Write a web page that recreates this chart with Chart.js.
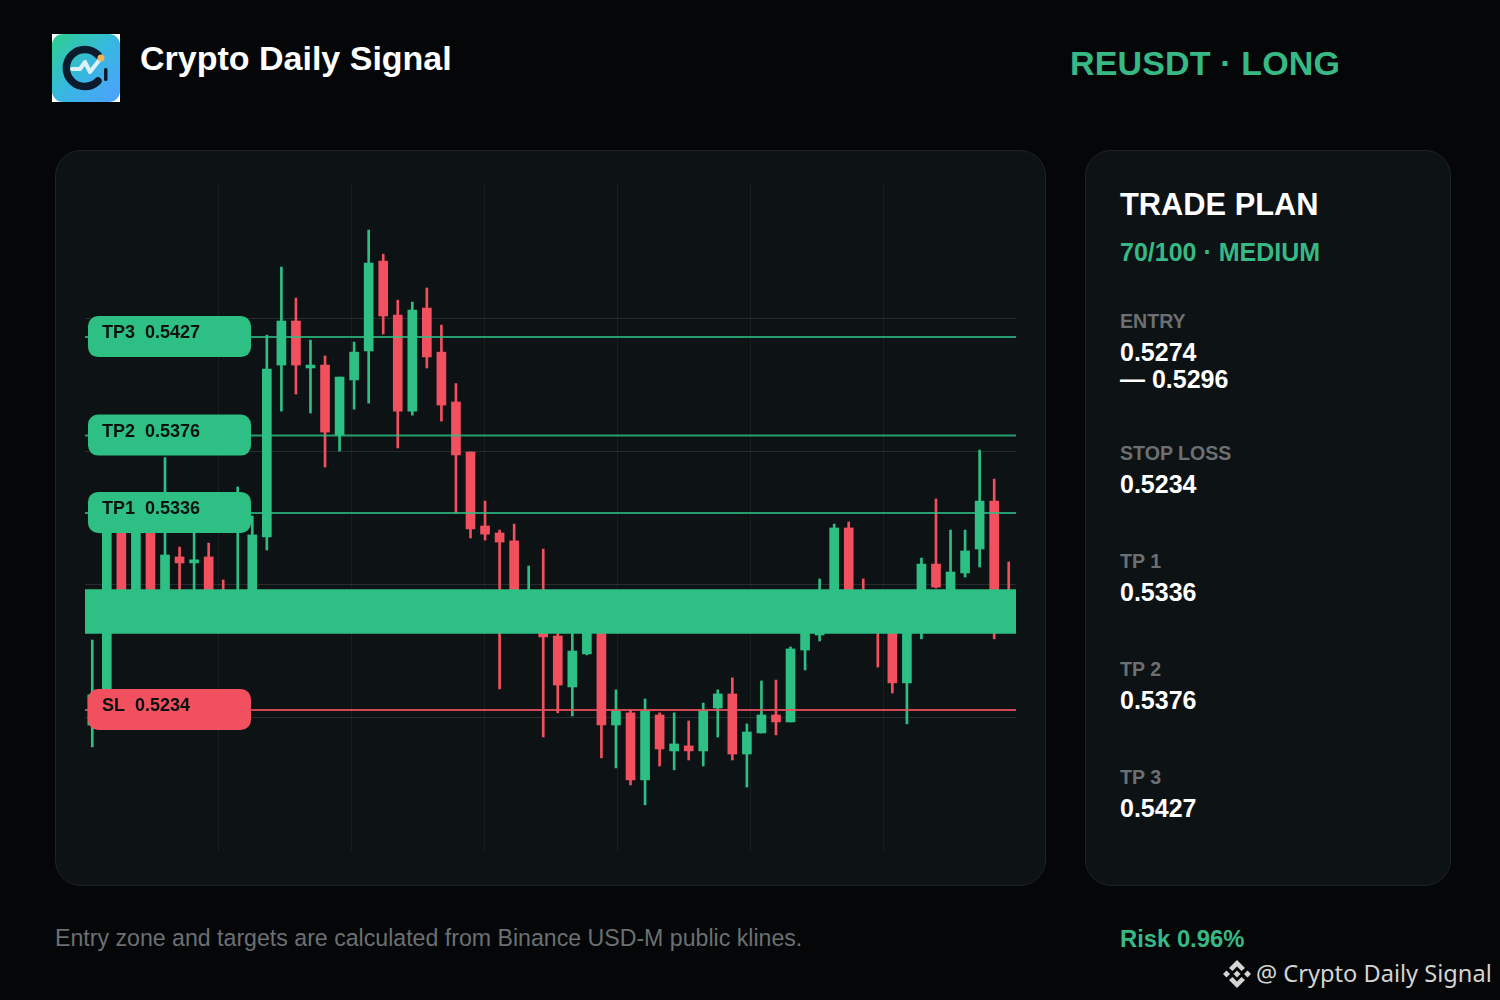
<!DOCTYPE html>
<html>
<head>
<meta charset="utf-8">
<title>Crypto Daily Signal</title>
<script src="https://cdn.jsdelivr.net/npm/chart.js@4"></script>
<style>
  html, body { margin: 0; padding: 0; background: #040608; }
  body { position: relative; width: 1500px; height: 1000px; overflow: hidden; font-family: "Liberation Sans", Arial, sans-serif; }
  .t { position: absolute; white-space: nowrap; line-height: 1; }
  .panel { position: absolute; box-sizing: border-box; top: 150px; height: 736px; background: #0d1214; border: 1px solid #1c2427; border-radius: 26px; }
  .lab { left: 1120px; font-size: 19.6px; font-weight: bold; color: #6b7072; }
  .val { left: 1120px; font-size: 25px; font-weight: bold; color: #fff; }
  #chartBox { position: absolute; left: 85px; top: 185px; width: 931px; height: 666px; }
</style>
</head>
<body>
<svg style="position:absolute;left:52px;top:34px" width="68" height="68" viewBox="0 0 68 68">
  <defs>
    <linearGradient id="lg" x1="0" y1="0" x2="1" y2="1">
      <stop offset="0" stop-color="#2cd08c"/>
      <stop offset="0.5" stop-color="#36b8e0"/>
      <stop offset="1" stop-color="#4f9fff"/>
    </linearGradient>
  </defs>
  <rect width="68" height="68" fill="#fff"/>
  <rect width="68" height="68" rx="11" fill="url(#lg)"/>
  <path d="M46 21 A18.500 18.500 0 1 0 46 47" fill="none" stroke="#0b1a2c" stroke-width="7.500" stroke-linecap="round"/>
  <path d="M20 35 L28 35 L33 28 L38 38 L49 24" fill="none" stroke="#dff0f8" stroke-width="4" stroke-linejoin="round" stroke-linecap="round"/>
  <circle cx="49" cy="24" r="3.500" fill="#f3b35b"/>
  <rect x="52" y="34" width="3.500" height="13" rx="1.500" fill="#0b1a2c"/>
</svg>
<div class="t" style="left:140px;top:41px;font-size:34px;font-weight:bold;color:#fff">Crypto Daily Signal</div>
<div class="t" style="left:1070px;top:46px;font-size:34px;font-weight:bold;letter-spacing:0.15px;color:#36b985">REUSDT · LONG</div>

<div class="panel" style="left:55px;width:991px"></div>
<div class="panel" style="left:1085px;width:366px"></div>

<div id="chartBox"><canvas id="candleChart" width="931" height="666"></canvas></div>

<div class="t" style="left:1120px;top:190px;font-size:30.800px;font-weight:bold;color:#fff">TRADE PLAN</div>
<div class="t" style="left:1120px;top:240px;font-size:25px;font-weight:bold;color:#36b985">70/100 · MEDIUM</div>
<div class="t lab" style="top:312px">ENTRY</div>
<div class="t val" style="top:340px">0.5274</div>
<div class="t val" style="top:367px">— 0.5296</div>
<div class="t lab" style="top:444px">STOP LOSS</div>
<div class="t val" style="top:472px">0.5234</div>
<div class="t lab" style="top:552px">TP 1</div>
<div class="t val" style="top:580px">0.5336</div>
<div class="t lab" style="top:660px">TP 2</div>
<div class="t val" style="top:688px">0.5376</div>
<div class="t lab" style="top:768px">TP 3</div>
<div class="t val" style="top:796px">0.5427</div>

<div class="t" style="left:55px;top:927px;font-size:23.150px;color:#6b7072">Entry zone and targets are calculated from Binance USD-M public klines.</div>
<div class="t" style="left:1120px;top:927px;font-size:23.800px;font-weight:bold;color:#36b985">Risk 0.96%</div>

<svg style="position:absolute;left:1222px;top:960px" width="30" height="28" viewBox="0 0 30 28" fill="#d4d4d4">
  <path d="M15 0 L23 8 L19.500 11 L15 6.500 L10.500 11 L7 8 Z"/>
  <path d="M15 28 L23 20 L19.500 17 L15 21.500 L10.500 17 L7 20 Z"/>
  <path d="M4.500 10.500 L8 14 L4.500 17.500 L1 14 Z"/>
  <path d="M25.500 10.500 L29 14 L25.500 17.500 L22 14 Z"/>
  <path d="M15 10.500 L18.500 14 L15 17.500 L11.500 14 Z"/>
</svg>
<div class="t" style="left:1256px;top:962px;font-size:23.600px;color:#d4d4d4;font-family:'Noto Sans','Open Sans',sans-serif">@ Crypto Daily Signal</div>

<script>
// цены
const opens = [0.52262,0.52392,0.53323,0.52909,0.53323,0.52909,0.53132,0.53101,0.53132,0.52935,0.52832,0.52857,0.53235,0.54125,0.54353,0.54110,
  0.54125,0.53763,0.54048,0.54198,0.54663,0.54384,0.53887,0.54420,0.54192,0.53934,0.53675,0.53292,0.53256,0.53215,0.52832,0.52857,
  0.52723,0.52459,0.52630,0.52780,0.52262,0.52325,0.51978,0.52314,0.52128,0.52154,0.52128,0.52350,0.52423,0.52112,0.52221,0.52314,
  0.52278,0.52650,0.52728,0.52857,0.53282,0.52935,0.52883,0.52857,0.52480,0.52857,0.53095,0.52857,0.53049,0.53173,0.53421,0.52935];
const highs = [0.52702,0.53401,0.53375,0.53375,0.53375,0.53646,0.53183,0.53297,0.53204,0.53013,0.53494,0.53344,0.54280,0.54632,0.54472,0.54254,
  0.54172,0.54063,0.54244,0.54824,0.54699,0.54461,0.54451,0.54524,0.54332,0.54029,0.53675,0.53421,0.53271,0.53302,0.53085,0.53173,
  0.52806,0.52780,0.52857,0.52857,0.52444,0.52340,0.52397,0.52325,0.52325,0.52283,0.52376,0.52444,0.52506,0.52268,0.52490,0.52495,
  0.52666,0.52857,0.53018,0.53302,0.53313,0.53018,0.52909,0.52909,0.52883,0.53126,0.53432,0.53271,0.53271,0.53685,0.53535,0.53106];
const lows = [0.52149,0.52366,0.52883,0.52883,0.52909,0.52883,0.52909,0.52909,0.52883,0.52806,0.52780,0.52806,0.53168,0.53887,0.53975,0.53877,
  0.53597,0.53680,0.53897,0.53928,0.54286,0.53696,0.53866,0.54110,0.53835,0.53359,0.53230,0.53219,0.52449,0.52909,0.52806,0.52200,
  0.52325,0.52309,0.52625,0.52092,0.52040,0.51952,0.51849,0.52050,0.52030,0.52081,0.52050,0.52200,0.52081,0.51941,0.52221,0.52211,
  0.52278,0.52547,0.52697,0.52832,0.52832,0.52806,0.52562,0.52428,0.52268,0.52708,0.52971,0.52806,0.53028,0.53080,0.52708,0.52806];
const closes = [0.52418,0.53375,0.52909,0.53349,0.52935,0.53142,0.53101,0.53117,0.52909,0.52857,0.52909,0.53246,0.54104,0.54353,0.54125,0.54125,
  0.53778,0.54063,0.54192,0.54653,0.54379,0.53887,0.54409,0.54167,0.53918,0.53660,0.53277,0.53250,0.53209,0.52935,0.52909,0.52718,
  0.52469,0.52645,0.52806,0.52262,0.52335,0.51978,0.52335,0.52138,0.52164,0.52128,0.52335,0.52423,0.52112,0.52226,0.52314,0.52278,
  0.52656,0.52806,0.52857,0.53282,0.52857,0.52857,0.52806,0.52480,0.52832,0.53095,0.52976,0.53054,0.53163,0.53421,0.52857,0.52857];

const entryLow = 0.5274;
const entryHigh = 0.5296;
const levelNames = ['TP3', 'TP2', 'TP1', 'SL'];
const levelPrices = [0.5427, 0.5376, 0.5336, 0.5234];

const priceMin = 0.51610;
const priceMax = 0.55057;

const green = '#2ebf84';
const red = '#f2505f';
const isUp = i => closes[i] >= opens[i];
const candleColors = opens.map((_, i) => isUp(i) ? green : red);
const xMin = -0.5;
const xMax = opens.length - 0.5;

// линия уровня на всю ширину
function levelLine(price, color, extra) {
  return Object.assign({
    type: 'line',
    data: [{ x: xMin, y: price }, { x: xMax, y: price }],
    borderColor: color,
    borderWidth: 2,
    pointRadius: 0,
    order: 3
  }, extra);
}

const levelDatasets = levelPrices.map((p, i) =>
  levelLine(p, levelNames[i] === 'SL' ? 'rgba(242,80,95,0.85)' : 'rgba(46,191,132,0.8)'));

// подписи уровней поверх графика
const levelTags = {
  id: 'levelTags',
  afterDatasetsDraw(chart) {
    const { ctx, scales } = chart;
    levelNames.forEach((name, i) => {
      const y = scales.y.getPixelForValue(levelPrices[i]);
      ctx.save();
      ctx.fillStyle = name === 'SL' ? red : green;
      ctx.beginPath();
      ctx.roundRect(3, y - 21, 163, 41, 10);
      ctx.fill();
      ctx.fillStyle = '#07120f';
      ctx.font = 'bold 18px "Liberation Sans", Arial, sans-serif';
      ctx.textBaseline = 'middle';
      ctx.fillText(name + '  ' + levelPrices[i].toFixed(4), 17, y - 4);
      ctx.restore();
    });
  }
};

new Chart(document.getElementById('candleChart').getContext('2d'), {
  type: 'bar',
  data: {
    datasets: [
      {
        data: opens.map((_, i) => ({ x: i, y: [lows[i], highs[i]] })),
        backgroundColor: candleColors,
        barThickness: 2,
        grouped: false,
        order: 5
      },
      {
        data: opens.map((_, i) => ({ x: i, y: [opens[i], closes[i]] })),
        backgroundColor: candleColors,
        barThickness: 9,
        grouped: false,
        order: 4
      },
      ...levelDatasets,
      levelLine(entryHigh, green, { fill: '+1', backgroundColor: green, order: 2 }),
      levelLine(entryLow, green, { order: 2 })
    ]
  },
  plugins: [levelTags],
  options: {
    responsive: false,
    animation: false,
    layout: { padding: 0 },
    plugins: { legend: { display: false }, tooltip: { enabled: false } },
    scales: {
      x: {
        type: 'linear',
        min: xMin,
        max: xMax,
        offset: false,
        afterBuildTicks: s => {
          s.ticks = [0, 1, 2, 3, 4, 5, 6, 7].map(k => ({ value: xMin + k * (xMax - xMin) / 7 }));
        },
        ticks: { display: false, autoSkip: false },
        border: { display: false },
        grid: {
          offset: false,
          drawTicks: false,
          color: c => (c.index === 0 || c.index === 7) ? 'transparent' : 'rgba(255,255,255,0.05)'
        }
      },
      y: {
        min: priceMin,
        max: priceMax,
        afterBuildTicks: s => {
          s.ticks = [0, 1, 2, 3, 4, 5].map(k => ({ value: priceMin + k * (priceMax - priceMin) / 5 }));
        },
        ticks: { display: false, autoSkip: false },
        border: { display: false },
        grid: {
          drawTicks: false,
          color: c => (c.index === 0 || c.index === 5) ? 'transparent' : 'rgba(255,255,255,0.11)'
        }
      }
    }
  }
});
</script>
</body>
</html>
